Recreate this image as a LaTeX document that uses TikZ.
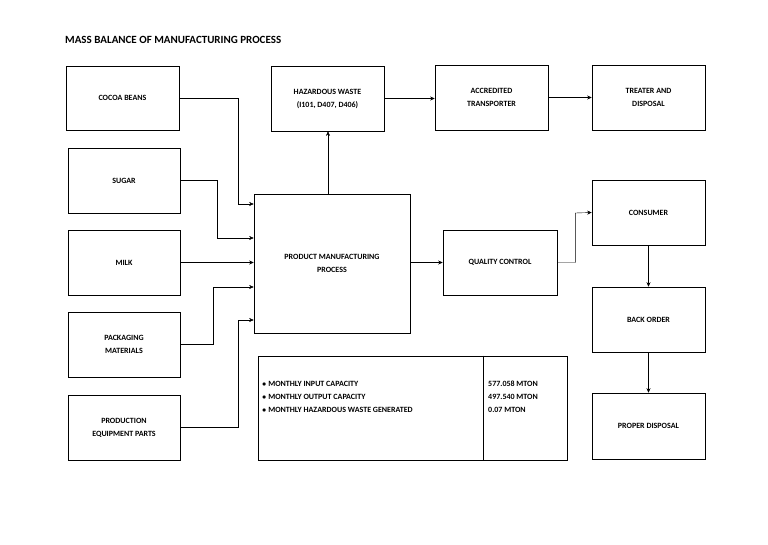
\documentclass[tikz,border=0pt]{standalone}
\usepackage{fontspec}
\setmainfont{Carlito}
\usetikzlibrary{arrows.meta,calc}

\tikzset{
	blk/.style={draw, semithick, align=center, font=\bfseries\fontsize{8}{13}\selectfont, inner sep=0pt},
	flow/.style={-{Stealth[length=4.5pt,width=4pt]}, thin}
}

\begin{document}
\begin{tikzpicture}[x=1pt,y=-1pt]
\useasboundingbox (0,0) rectangle (768,544);
\node[anchor=west, font=\bfseries\fontsize{11}{13}\selectfont, inner sep=0pt] (title) at (65,40) {MASS BALANCE OF MANUFACTURING PROCESS};

% inputs
\node[blk, minimum width=113, minimum height=64] (cocoa) at (122.5,98) {COCOA BEANS};
\node[blk, minimum width=112, minimum height=65] (sugar) at (124,180.5) {SUGAR};
\node[blk, minimum width=112, minimum height=65] (milk) at (124,262.5) {MILK};
\node[blk, minimum width=112, minimum height=65] (pack) at (124,344.5) {PACKAGING\\MATERIALS};
\node[blk, minimum width=112, minimum height=65] (equip) at (124,427.5) {PRODUCTION\\EQUIPMENT PARTS};

% process
\node[blk, minimum width=156, minimum height=139] (proc) at (332,263.5) {PRODUCT MANUFACTURING\\PROCESS};
\node[blk, minimum width=113, minimum height=65] (haz) at (327.5,98.5) {HAZARDOUS WASTE\\(I101, D407, D406)};
\node[blk, minimum width=113, minimum height=65] (trans) at (491.5,97.5) {ACCREDITED\\TRANSPORTER};
\node[blk, minimum width=113, minimum height=65] (treat) at (648.5,97.5) {TREATER AND\\DISPOSAL};
\node[blk, minimum width=114, minimum height=65] (qc) at (500,262.5) {QUALITY CONTROL};
\node[blk, minimum width=113, minimum height=65] (cons) at (648.5,212.5) {CONSUMER};
\node[blk, minimum width=113, minimum height=65] (back) at (648.5,319.5) {BACK ORDER};
\node[blk, minimum width=113, minimum height=66] (disp) at (648.5,426) {PROPER DISPOSAL};

% capacity table
\node[draw, semithick, minimum width=309, minimum height=104, inner sep=0pt] (tab) at (412.5,408) {};
\draw[semithick] (tab.north west) ++(226,0) coordinate (split) -- ++(0,104);
\node[anchor=north west, align=left, font=\bfseries\fontsize{8}{13}\selectfont, inner sep=0pt] (items) at (262,381)
	{$\bullet$ MONTHLY INPUT CAPACITY\\$\bullet$ MONTHLY OUTPUT CAPACITY\\$\bullet$ MONTHLY HAZARDOUS WASTE GENERATED};
\node[anchor=north west, align=left, font=\bfseries\fontsize{8}{13}\selectfont, inner sep=0pt] (vals) at (488,381)
	{577.058 MTON\\497.540 MTON\\0.07 MTON};

% connectors
\draw[flow] (cocoa.east) -| ($(proc.west)+(-16,-59.5)$) -- ($(proc.west)+(0,-59.5)$);
\draw[flow] (sugar.east) -| ($(proc.west)+(-37,-25.5)$) -- ($(proc.west)+(0,-25.5)$);
\draw[flow] (milk.east) -- (proc.west |- milk.east);
\draw[flow] (pack.east) -| ($(proc.west)+(-41,23.5)$) -- ($(proc.west)+(0,23.5)$);
\draw[flow] (equip.east) -| ($(proc.west)+(-16,56.5)$) -- ($(proc.west)+(0,56.5)$);
\draw[flow] ($(proc.north)+(-4,0)$) -- ($(haz.south)+(0.5,0)$);
\draw[flow] (haz.east) -- (trans.west |- haz.east);
\draw[flow] (trans.east) -- (treat.west);
\draw[flow] (proc.east |- qc.west) -- (qc.west);
\draw[flow] (qc.east) -| ($(qc.east)+(18,-49.5)$) -- (cons.west);
\draw[flow] (cons.south) -- (back.north);
\draw[flow] (back.south) -- (disp.north);
\end{tikzpicture}
\end{document}
